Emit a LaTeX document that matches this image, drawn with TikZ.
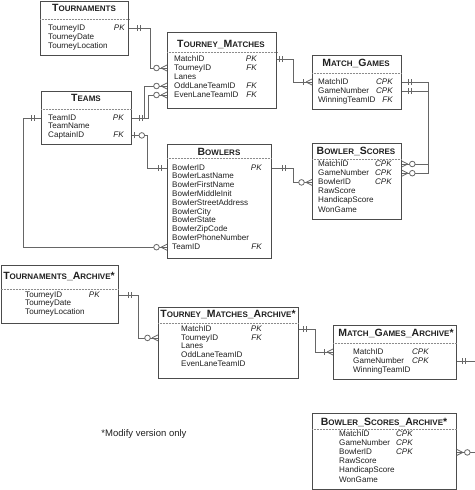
\documentclass[tikz,border=0pt]{standalone}
\usepackage{fontspec}
\setmainfont{Liberation Sans}
\usepackage{xcolor}
\usetikzlibrary{decorations.markings}

\definecolor{boxgray}{gray}{0.3}
\definecolor{linegray}{gray}{0.4}
\definecolor{textgray}{gray}{0.12}

% small part of a small-caps title
\newcommand{\sm}[1]{{\fontsize{8}{8}\selectfont #1}}

\tikzset{
  entity/.style={draw=boxgray, line width=0.8pt, anchor=north west, inner sep=0pt},
  etitle/.style={font=\fontsize{10.5}{10.5}\selectfont\bfseries, text=textgray, inner sep=0pt},
  field/.style={font=\fontsize{8.1}{8.1}\selectfont, text=textgray, anchor=west,
    inner sep=0pt, text height=5.8pt, text depth=1.6pt},
  keycol/.style={field, anchor=east, font=\fontsize{8.1}{8.1}\selectfont\itshape},
  divider/.style={draw=black!45, densely dotted, line width=0.5pt},
  rel/.style={draw=linegray, line width=0.8pt},
  mandone/.style={postaction={decorate, decoration={markings, mark=at position #1 with {
    \draw[rel] (0,-3pt) -- (0,3pt) (3pt,-3pt) -- (3pt,3pt);}}}},
  zeroone/.style={postaction={decorate, decoration={markings, mark=at position 0 with {
    \draw[rel] (3pt,-3pt) -- (3pt,3pt);
    \draw[rel, fill=white] (10pt,0) circle (2.8pt);}}}},
  zeromany/.style={postaction={decorate, decoration={markings, mark=at position 1 with {
    \draw[rel] (-6pt,0) -- (0,3pt) (-6pt,0) -- (0,-3pt);
    \draw[rel, fill=white] (-10.5pt,0) circle (2.8pt);}}}},
  onemany/.style={postaction={decorate, decoration={markings, mark=at position 1 with {
    \draw[rel] (-6pt,0) -- (0,3pt) (-6pt,0) -- (0,-3pt);
    \draw[rel] (-9pt,-3pt) -- (-9pt,3pt);}}}},
  note/.style={font=\fontsize{9.5}{9.5}\selectfont, text=textgray, inner sep=0pt}
}

\begin{document}
\begin{tikzpicture}[x=1pt, y=-1pt]
  \useasboundingbox (0,0) rectangle (474,490);

  % Tournaments
  \node[entity, minimum width=88pt, minimum height=54pt] (tour) at (40,0.5) {};
  \node[etitle] (tour-t) at (84,8) {T\sm{OURNAMENTS}};
  \draw[divider] (tour.west |- 0,19) -- (tour.east |- 0,19);
  \foreach \f [count=\i] in {TourneyID,TourneyDate,TourneyLocation}
    \node[field] (tour-\i) at (48,{19+9*\i}) {\f};
  \node[keycol] at (tour-1 -| 125,0) {PK};

  % Teams
  \node[entity, minimum width=90pt, minimum height=53pt] (teams) at (41,91) {};
  \node[etitle] (teams-t) at (86,98) {T\sm{EAMS}};
  \draw[divider] (teams.west |- 0,109) -- (teams.east |- 0,109);
  \foreach \f [count=\i] in {TeamID,TeamName,CaptainID}
    \node[field] (teams-\i) at (48,{109.3+8.7*\i}) {\f};
  \node[keycol] at (teams-1 -| 124,0) {PK};
  \node[keycol] at (teams-3 -| 124,0) {FK};

  % Tourney_Matches
  \node[entity, minimum width=109pt, minimum height=76pt] (tm) at (167,32) {};
  \node[etitle] (tm-t) at (221,45) {T\sm{OURNEY}\_M\sm{ATCHES}};
  \draw[divider] (tm.west |- 0,52) -- (tm.east |- 0,52);
  \foreach \f [count=\i] in {MatchID,TourneyID,Lanes,OddLaneTeamID,EvenLaneTeamID}
    \node[field] (tm-\i) at (174,{50+9*\i}) {\f};
  \foreach \i/\k in {1/PK,2/FK,4/FK,5/FK}
    \node[keycol] at (tm-\i -| 257,0) {\k};

  % Match_Games
  \node[entity, minimum width=89pt, minimum height=54pt] (mg) at (312,55) {};
  \node[etitle] (mg-t) at (356,63) {M\sm{ATCH}\_G\sm{AMES}};
  \draw[divider] (mg.west |- 0,73) -- (mg.east |- 0,73);
  \foreach \f [count=\i] in {MatchID,GameNumber,WinningTeamID}
    \node[field] (mg-\i) at (318,{73+9*\i}) {\f};
  \foreach \i/\k in {1/CPK,2/CPK,3/FK}
    \node[keycol] at (mg-\i -| 393,0) {\k};

  % Bowler_Scores
  \node[entity, minimum width=89pt, minimum height=76pt] (bs) at (312,143) {};
  \node[etitle] (bs-t) at (356,151) {B\sm{OWLER}\_S\sm{CORES}};
  \draw[divider] (bs.west |- 0,159) -- (bs.east |- 0,159);
  \foreach \f [count=\i] in {MatchID,GameNumber,BowlerID,RawScore,HandicapScore,WonGame}
    \node[field] (bs-\i) at (318,{154.8+9.2*\i}) {\f};
  \foreach \i in {1,2,3}
    \node[keycol] at (bs-\i -| 392,0) {CPK};

  % Bowlers
  \node[entity, minimum width=104pt, minimum height=114pt] (bowlers) at (167,144) {};
  \node[etitle] (bowlers-t) at (219,152) {B\sm{OWLERS}};
  \draw[divider] (bowlers.west |- 0,158.5) -- (bowlers.east |- 0,158.5);
  \foreach \f [count=\i] in {BowlerID,BowlerLastName,BowlerFirstName,BowlerMiddleInit,
      BowlerStreetAddress,BowlerCity,BowlerState,BowlerZipCode,BowlerPhoneNumber,TeamID}
    \node[field] (bowlers-\i) at (172,{159.2+8.8*\i}) {\f};
  \node[keycol] at (bowlers-1 -| 262,0) {PK};
  \node[keycol] at (bowlers-10 -| 262,0) {FK};

  % Tournaments_Archive
  \node[entity, minimum width=117.5pt, minimum height=58pt] (ta) at (0.5,265) {};
  \node[etitle] (ta-t) at (59,277) {T\sm{OURNAMENTS}\_A\sm{RCHIVE}*};
  \draw[divider] (ta.west |- 0,289) -- (ta.east |- 0,289);
  \foreach \f [count=\i] in {TourneyID,TourneyDate,TourneyLocation}
    \node[field] (ta-\i) at (25,{286.4+8.6*\i}) {\f};
  \node[keycol] at (ta-1 -| 100,0) {PK};

  % Tourney_Matches_Archive
  \node[entity, minimum width=140pt, minimum height=71pt] (tma) at (158,307) {};
  \node[etitle] (tma-t) at (228,315) {T\sm{OURNEY}\_M\sm{ATCHES}\_A\sm{RCHIVE}*};
  \draw[divider] (tma.west |- 0,323) -- (tma.east |- 0,323);
  \foreach \f [count=\i] in {MatchID,TourneyID,Lanes,OddLaneTeamID,EvenLaneTeamID}
    \node[field] (tma-\i) at (181,{320.1+8.9*\i}) {\f};
  \node[keycol] at (tma-1 -| 262,0) {PK};
  \node[keycol] at (tma-2 -| 262,0) {FK};

  % Match_Games_Archive
  \node[entity, minimum width=123pt, minimum height=54pt] (mga) at (333,325) {};
  \node[etitle] (mga-t) at (396,333) {M\sm{ATCH}\_G\sm{AMES}\_A\sm{RCHIVE}*};
  \draw[divider] (mga.west |- 0,343) -- (mga.east |- 0,343);
  \foreach \f [count=\i] in {MatchID,GameNumber,WinningTeamID}
    \node[field] (mga-\i) at (353,{343+9*\i}) {\f};
  \foreach \i in {1,2}
    \node[keycol] at (mga-\i -| 429,0) {CPK};

  % Bowler_Scores_Archive
  \node[entity, minimum width=144pt, minimum height=76pt] (bsa) at (312,413) {};
  \node[etitle] (bsa-t) at (384,422) {B\sm{OWLER}\_S\sm{CORES}\_A\sm{RCHIVE}*};
  \draw[divider] (bsa.west |- 0,429) -- (bsa.east |- 0,429);
  \foreach \f [count=\i] in {MatchID,GameNumber,BowlerID,RawScore,HandicapScore,WonGame}
    \node[field] (bsa-\i) at (339,{424.8+9.2*\i}) {\f};
  \foreach \i in {1,2,3}
    \node[keycol] at (bsa-\i -| 413,0) {CPK};

  \node[note] (note) at (144,434) {*Modify version only};

  % relationships
  \coordinate (b-tour) at (150,0);
  \coordinate (b-odd) at (144,0);
  \coordinate (b-even) at (148.5,0);
  \coordinate (b-capt) at (147,0);
  \coordinate (b-left) at (23,0);
  \coordinate (b-match) at (293,0);
  \coordinate (b-game) at (428,0);
  \coordinate (b-ta) at (138,0);
  \coordinate (b-tma) at (315,0);
  \coordinate (b-mga) at (480,0);

  \draw[rel, mandone=9pt, zeromany] (tour.east |- tour-1) -- (tour-1 -| b-tour)
    -- (tm-2 -| b-tour) -- (tm.west |- tm-2);
  \draw[rel, mandone=8pt, zeromany] (teams.east |- teams-1) -- (teams-1 -| b-odd)
    -- (tm-4 -| b-odd) -- (tm.west |- tm-4);
  \draw[rel, zeromany] (teams.east |- teams-1) -- (teams-1 -| b-even)
    -- (tm-5 -| b-even) -- (tm.west |- tm-5);
  \draw[rel, zeroone, mandone=-9pt] (teams.east |- teams-3) -- (teams-3 -| b-capt)
    -- (bowlers-1 -| b-capt) -- (bowlers.west |- bowlers-1);
  \draw[rel, mandone=7pt, zeromany] (teams.west |- teams-1) -- (teams-1 -| b-left)
    -- (bowlers-10 -| b-left) -- (bowlers.west |- bowlers-10);
  \draw[rel, mandone=3pt, onemany] (tm.east |- tm-1) -- (tm-1 -| b-match)
    -- (mg-1 -| b-match) -- (mg.west |- mg-1);
  \draw[rel, mandone=7pt, zeromany] (mg.east |- mg-1) -- (mg-1 -| b-game)
    -- (bs-1 -| b-game) -- (bs.east |- bs-1);
  \draw[rel, mandone=7pt, zeromany] (mg.east |- mg-2) -- (mg-2 -| b-game)
    -- (bs-2 -| b-game) -- (bs.east |- bs-2);
  \draw[rel, mandone=11pt, zeromany] (bowlers.east |- bowlers-1) -- (bowlers-1 -| b-match)
    -- (bs-3 -| b-match) -- (bs.west |- bs-3);
  \draw[rel, mandone=10pt, zeromany] (ta.east |- ta-1) -- (ta-1 -| b-ta)
    -- (tma-2 -| b-ta) -- (tma.west |- tma-2);
  \draw[rel, mandone=5pt, onemany] (tma.east |- tma-1) -- (tma-1 -| b-tma)
    -- (mga-1 -| b-tma) -- (mga.west |- mga-1);
  \draw[rel, mandone=6pt, zeromany] (mga.east |- mga-2) -- (mga-2 -| b-mga)
    -- (bsa-3 -| b-mga) -- (bsa.east |- bsa-3);
\end{tikzpicture}
\end{document}
